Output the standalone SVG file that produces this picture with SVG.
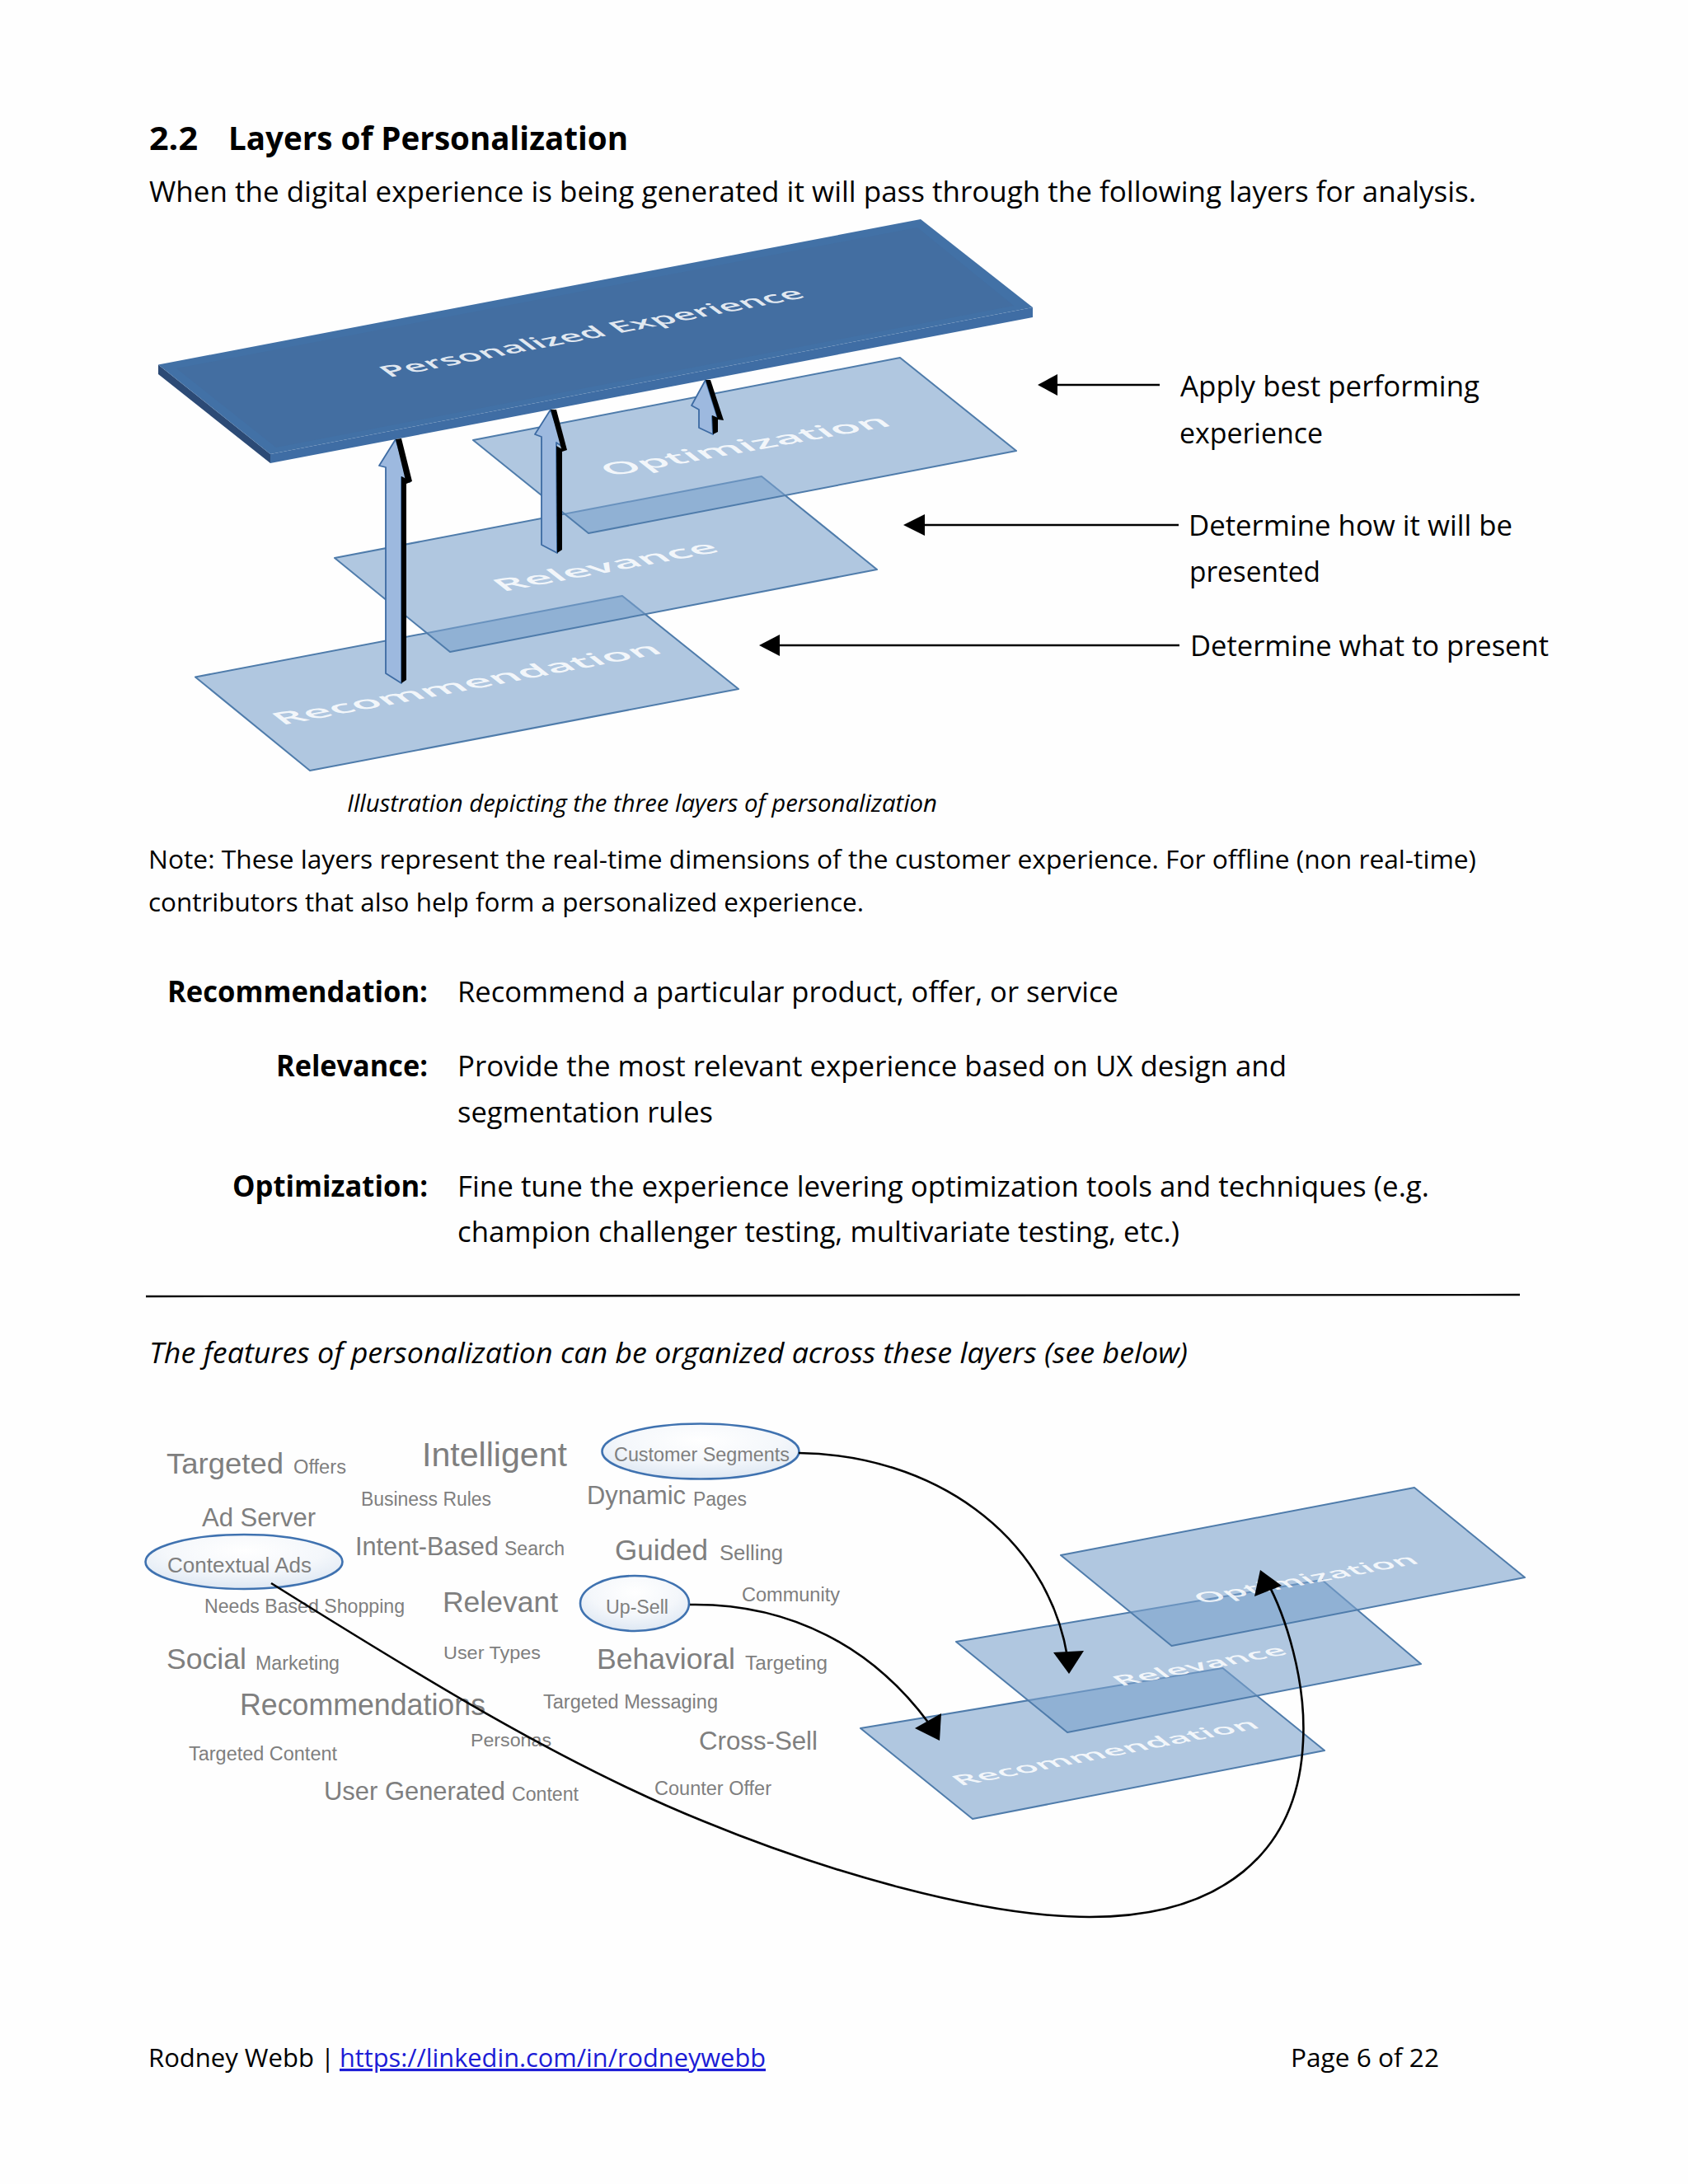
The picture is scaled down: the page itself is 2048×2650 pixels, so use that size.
<svg xmlns="http://www.w3.org/2000/svg" width="2048" height="2650" viewBox="0 0 2048 2650">
<style>
text{font-family:"Open Sans","Noto Sans","Liberation Sans",sans-serif;fill:#000}
.b{font-size:34px}
.n{font-size:31.5px}
.d{font-size:36px;font-weight:700}
.w text,text.w{font-family:"Liberation Sans",Arial,sans-serif;fill:#7f7f7f}
.pl{fill:#7ba2cb;fill-opacity:.6;stroke:#4f7cab;stroke-width:2;stroke-linejoin:round}
.lb{fill:#fff;fill-opacity:.85;font-weight:600}
.el{fill:url(#eg);stroke:#3f72b0;stroke-width:2.6}
.ar{fill:#9db9df;stroke:#3d6ba3;stroke-width:1.8;stroke-linejoin:round}
.bk{fill:#000}
.ln{fill:none;stroke:#000;stroke-width:2.6}
</style>
<defs>
<radialGradient id="eg" cx=".5" cy=".3" r=".8"><stop offset="0" stop-color="#fff"/><stop offset=".5" stop-color="#f4f7fb"/><stop offset="1" stop-color="#d6e2f0"/></radialGradient>
</defs>
<rect width="2048" height="2650" fill="#fefefe"/>

<g id="page-text">
<text x="181" y="182" font-size="39" font-weight="700" textLength="59" lengthAdjust="spacingAndGlyphs">2.2</text>
<text x="277" y="182" font-size="39" font-weight="700" textLength="485" lengthAdjust="spacingAndGlyphs">Layers of Personalization</text>
<text class="b" x="181" y="245" textLength="1610" lengthAdjust="spacingAndGlyphs">When the digital experience is being generated it will pass through the following layers for analysis.</text>
<text x="421" y="985" font-size="29" font-style="italic" textLength="716" lengthAdjust="spacingAndGlyphs">Illustration depicting the three layers of personalization</text>
<text class="n" x="180" y="1054" textLength="1611" lengthAdjust="spacingAndGlyphs">Note: These layers represent the real-time dimensions of the customer experience.  For offline (non real-time)</text>
<text class="n" x="180" y="1106" textLength="868" lengthAdjust="spacingAndGlyphs">contributors that also help form a personalized experience.</text>
<text class="d" x="203" y="1216" textLength="316" lengthAdjust="spacingAndGlyphs">Recommendation:</text>
<text class="b" x="555" y="1216" textLength="802" lengthAdjust="spacingAndGlyphs">Recommend a particular product, offer, or service</text>
<text class="d" x="335" y="1306" textLength="184" lengthAdjust="spacingAndGlyphs">Relevance:</text>
<text class="b" x="555" y="1306" textLength="1006" lengthAdjust="spacingAndGlyphs">Provide the most relevant experience based on UX design and</text>
<text class="b" x="555" y="1362" textLength="310" lengthAdjust="spacingAndGlyphs">segmentation rules</text>
<text class="d" x="282" y="1452" textLength="237" lengthAdjust="spacingAndGlyphs">Optimization:</text>
<text class="b" x="555" y="1452" textLength="1179" lengthAdjust="spacingAndGlyphs">Fine tune the experience levering optimization tools and techniques (e.g.</text>
<text class="b" x="555" y="1507" textLength="876" lengthAdjust="spacingAndGlyphs">champion challenger testing, multivariate testing, etc.)</text>
<line x1="177" y1="1573" x2="1844" y2="1571" stroke="#000" stroke-width="2.4"/>
<text class="b" x="181" y="1654" font-style="italic" textLength="1260" lengthAdjust="spacingAndGlyphs">The features of personalization can be organized across these layers (see below)</text>
<text class="n" x="180" y="2508" textLength="226" lengthAdjust="spacingAndGlyphs">Rodney Webb |</text>
<text class="n" x="412" y="2508" style="fill:#1c1cd6" text-decoration="underline" textLength="517" lengthAdjust="spacingAndGlyphs">https://linkedin.com/in/rodneywebb</text>
<text class="n" x="1566" y="2508" textLength="180" lengthAdjust="spacingAndGlyphs">Page 6 of 22</text>
</g>

<g id="top-recommendation">
<polygon class="pl" points="237,821.5 755,723 896,836 376,935"/>
<text class="lb" font-size="42" textLength="472" lengthAdjust="spacingAndGlyphs" transform="matrix(.983,-.186,.56,.44,342,880)">Recommendation</text>
</g>
<g id="top-relevance">
<polygon class="pl" points="406,677 924,578 1064,691 546,791"/>
<text class="lb" font-size="42" textLength="270" lengthAdjust="spacingAndGlyphs" transform="matrix(.983,-.182,.56,.44,610,718)">Relevance</text>
</g>
<g id="top-optimization">
<polygon class="pl" points="574,534 1092,434 1233,547 714,647"/>
<text class="lb" font-size="42" textLength="349" lengthAdjust="spacingAndGlyphs" transform="matrix(.985,-.177,.56,.44,740,578)">Optimization</text>
</g>
<g id="personalized-experience">
<polygon fill="#2c4a75" points="192,442.5 328,551 328,562 192,454"/>
<polygon fill="#3f6da4" points="328,551 1253,373 1253,385 328,562"/>
<polygon fill="#4271a6" points="192,442.5 1117,266 1253,373 328,551"/>
<polygon fill="#436ea1" points="214,447 1113,276 1230,371 335,543"/>
<text class="lb" font-size="40" textLength="516" lengthAdjust="spacingAndGlyphs" transform="matrix(.983,-.189,.56,.42,472,458)">Personalized Experience</text>
</g>

<g id="flow-arrows">
<polygon class="ar" points="480,533 460,565 468,567 468,817 487,829 487,579 497,585"/>
<polygon class="bk" points="480,533 487,532 500,584 493,587"/>
<polygon class="bk" points="487,578 493,581 493,825 487,829"/>
<polygon class="ar" points="668,497 649,527 657,530 657,661 676,671 675,537 684,543"/>
<polygon class="bk" points="668,497 675,497 688,546 682,548"/>
<polygon class="bk" points="675,541 682,545 682,667 676,671"/>
<polygon class="ar" points="856,461 839,492 848,497 848,519 865,527 864,505 871,508"/>
<polygon class="bk" points="856,461 862,461 878,510 871,509"/>
<polygon class="bk" points="864,504 871,507 871,524 865,527"/>
</g>

<g id="callout-labels">
<text class="b" x="1432" y="481" textLength="363" lengthAdjust="spacingAndGlyphs">Apply best performing</text>
<text class="b" x="1431" y="538" textLength="174" lengthAdjust="spacingAndGlyphs">experience</text>
<text class="b" x="1442" y="650" textLength="393" lengthAdjust="spacingAndGlyphs">Determine how it will be</text>
<text class="b" x="1443" y="706" textLength="159" lengthAdjust="spacingAndGlyphs">presented</text>
<text class="b" x="1444" y="796" textLength="435" lengthAdjust="spacingAndGlyphs">Determine what to present</text>
</g>

<g id="word-cloud" class="w">
<text x="202" y="1788" font-size="35" textLength="142" lengthAdjust="spacingAndGlyphs">Targeted</text><text x="356" y="1788" font-size="23" textLength="64" lengthAdjust="spacingAndGlyphs">Offers</text>
<text x="512" y="1779" font-size="41" textLength="176" lengthAdjust="spacingAndGlyphs">Intelligent</text>
<text x="438" y="1827" font-size="23" textLength="158" lengthAdjust="spacingAndGlyphs">Business Rules</text>
<text x="712" y="1825" font-size="31" textLength="120" lengthAdjust="spacingAndGlyphs">Dynamic</text><text x="841" y="1827" font-size="23" textLength="65" lengthAdjust="spacingAndGlyphs">Pages</text>
<text x="245" y="1852" font-size="31" textLength="138" lengthAdjust="spacingAndGlyphs">Ad Server</text>
<text x="431" y="1887" font-size="30.5" textLength="174" lengthAdjust="spacingAndGlyphs">Intent-Based</text><text x="612" y="1887" font-size="23" textLength="73" lengthAdjust="spacingAndGlyphs">Search</text>
<text x="746" y="1893" font-size="35" textLength="113" lengthAdjust="spacingAndGlyphs">Guided</text><text x="873" y="1893" font-size="25.5" textLength="77" lengthAdjust="spacingAndGlyphs">Selling</text>
<text x="248" y="1957" font-size="23.7" textLength="243" lengthAdjust="spacingAndGlyphs">Needs Based Shopping</text>
<text x="537" y="1956" font-size="35" textLength="140" lengthAdjust="spacingAndGlyphs">Relevant</text>
<text x="900" y="1943" font-size="23.3" textLength="119" lengthAdjust="spacingAndGlyphs">Community</text>
<text x="538" y="2013" font-size="22.7" textLength="118" lengthAdjust="spacingAndGlyphs">User Types</text>
<text x="202" y="2025" font-size="35" textLength="97" lengthAdjust="spacingAndGlyphs">Social</text><text x="310" y="2026" font-size="23" textLength="102" lengthAdjust="spacingAndGlyphs">Marketing</text>
<text x="724" y="2025" font-size="35" textLength="168" lengthAdjust="spacingAndGlyphs">Behavioral</text><text x="904" y="2026" font-size="23" textLength="100" lengthAdjust="spacingAndGlyphs">Targeting</text>
<text x="291" y="2081" font-size="37" textLength="298" lengthAdjust="spacingAndGlyphs">Recommendations</text>
<text x="659" y="2073" font-size="23" textLength="212" lengthAdjust="spacingAndGlyphs">Targeted Messaging</text>
<text x="571" y="2119" font-size="22.7" textLength="98" lengthAdjust="spacingAndGlyphs">Personas</text>
<text x="848" y="2123" font-size="30.8" textLength="144" lengthAdjust="spacingAndGlyphs">Cross-Sell</text>
<text x="229" y="2136" font-size="23" textLength="180" lengthAdjust="spacingAndGlyphs">Targeted Content</text>
<text x="393" y="2184" font-size="30.5" textLength="220" lengthAdjust="spacingAndGlyphs">User Generated</text><text x="621" y="2185" font-size="24" textLength="81" lengthAdjust="spacingAndGlyphs">Content</text>
<text x="794" y="2178" font-size="23.3" textLength="142" lengthAdjust="spacingAndGlyphs">Counter Offer</text>
</g>

<g id="customer-segments"><ellipse class="el" cx="850" cy="1761" rx="119.5" ry="33.5"/><text class="w" x="745" y="1773" font-size="23.2" textLength="213" lengthAdjust="spacingAndGlyphs">Customer Segments</text></g>
<g id="contextual-ads"><ellipse class="el" cx="296" cy="1895" rx="119.500" ry="33"/><text class="w" x="203" y="1908" font-size="25.6" textLength="175" lengthAdjust="spacingAndGlyphs">Contextual Ads</text></g>
<g id="up-sell"><ellipse class="el" cx="770" cy="1945.500" rx="66" ry="33.500"/><text class="w" x="735" y="1958" font-size="23" textLength="76" lengthAdjust="spacingAndGlyphs">Up-Sell</text></g>

<g id="low-recommendation">
<polygon class="pl" points="1044,2097 1483.500,2024 1607,2124 1180,2207"/>
<text class="lb" font-size="35" textLength="372" lengthAdjust="spacingAndGlyphs" transform="matrix(.982,-.19,.56,.44,1165,2167)">Recommendation</text>
</g>
<g id="low-relevance">
<polygon class="pl" points="1160,1992 1604,1917 1724,2019 1295,2102"/>
<text class="lb" font-size="35" textLength="208" lengthAdjust="spacingAndGlyphs" transform="matrix(.982,-.19,.56,.44,1360,2046)">Relevance</text>
</g>
<g id="low-optimization">
<polygon class="pl" points="1287,1887 1716,1805 1850,1914 1421.500,1997"/>
<text class="lb" font-size="35" textLength="270" lengthAdjust="spacingAndGlyphs" transform="matrix(.984,-.183,.56,.44,1458,1946)">Optimization</text>
</g>

<g id="connectors">
<path class="ln" d="M1407,467H1275"/><polygon class="bk" points="1259,467 1283,454 1283,480"/>
<path class="ln" d="M1430,637H1115"/><polygon class="bk" points="1096,637 1122,624 1122,650"/>
<path class="ln" d="M1431,783H940"/><polygon class="bk" points="921,783 946,770 946,796"/>
<path class="ln" d="M969,1763C1130,1765 1270,1860 1295,2010"/><polygon class="bk" points="1297,2031 1278,2005 1315,2003"/>
<path class="ln" d="M837,1947C960,1945 1060,2000 1127,2091"/><polygon class="bk" points="1140,2112 1142,2079 1110,2097"/>
<path class="ln" d="M329,1921C500,2028 680,2140 854,2210C1000,2270 1190,2326 1322,2326C1480,2326 1575,2250 1581,2113C1585,2040 1560,1960 1536,1917"/><polygon class="bk" points="1529,1905 1555,1924 1522,1937"/>
</g>
</svg>
